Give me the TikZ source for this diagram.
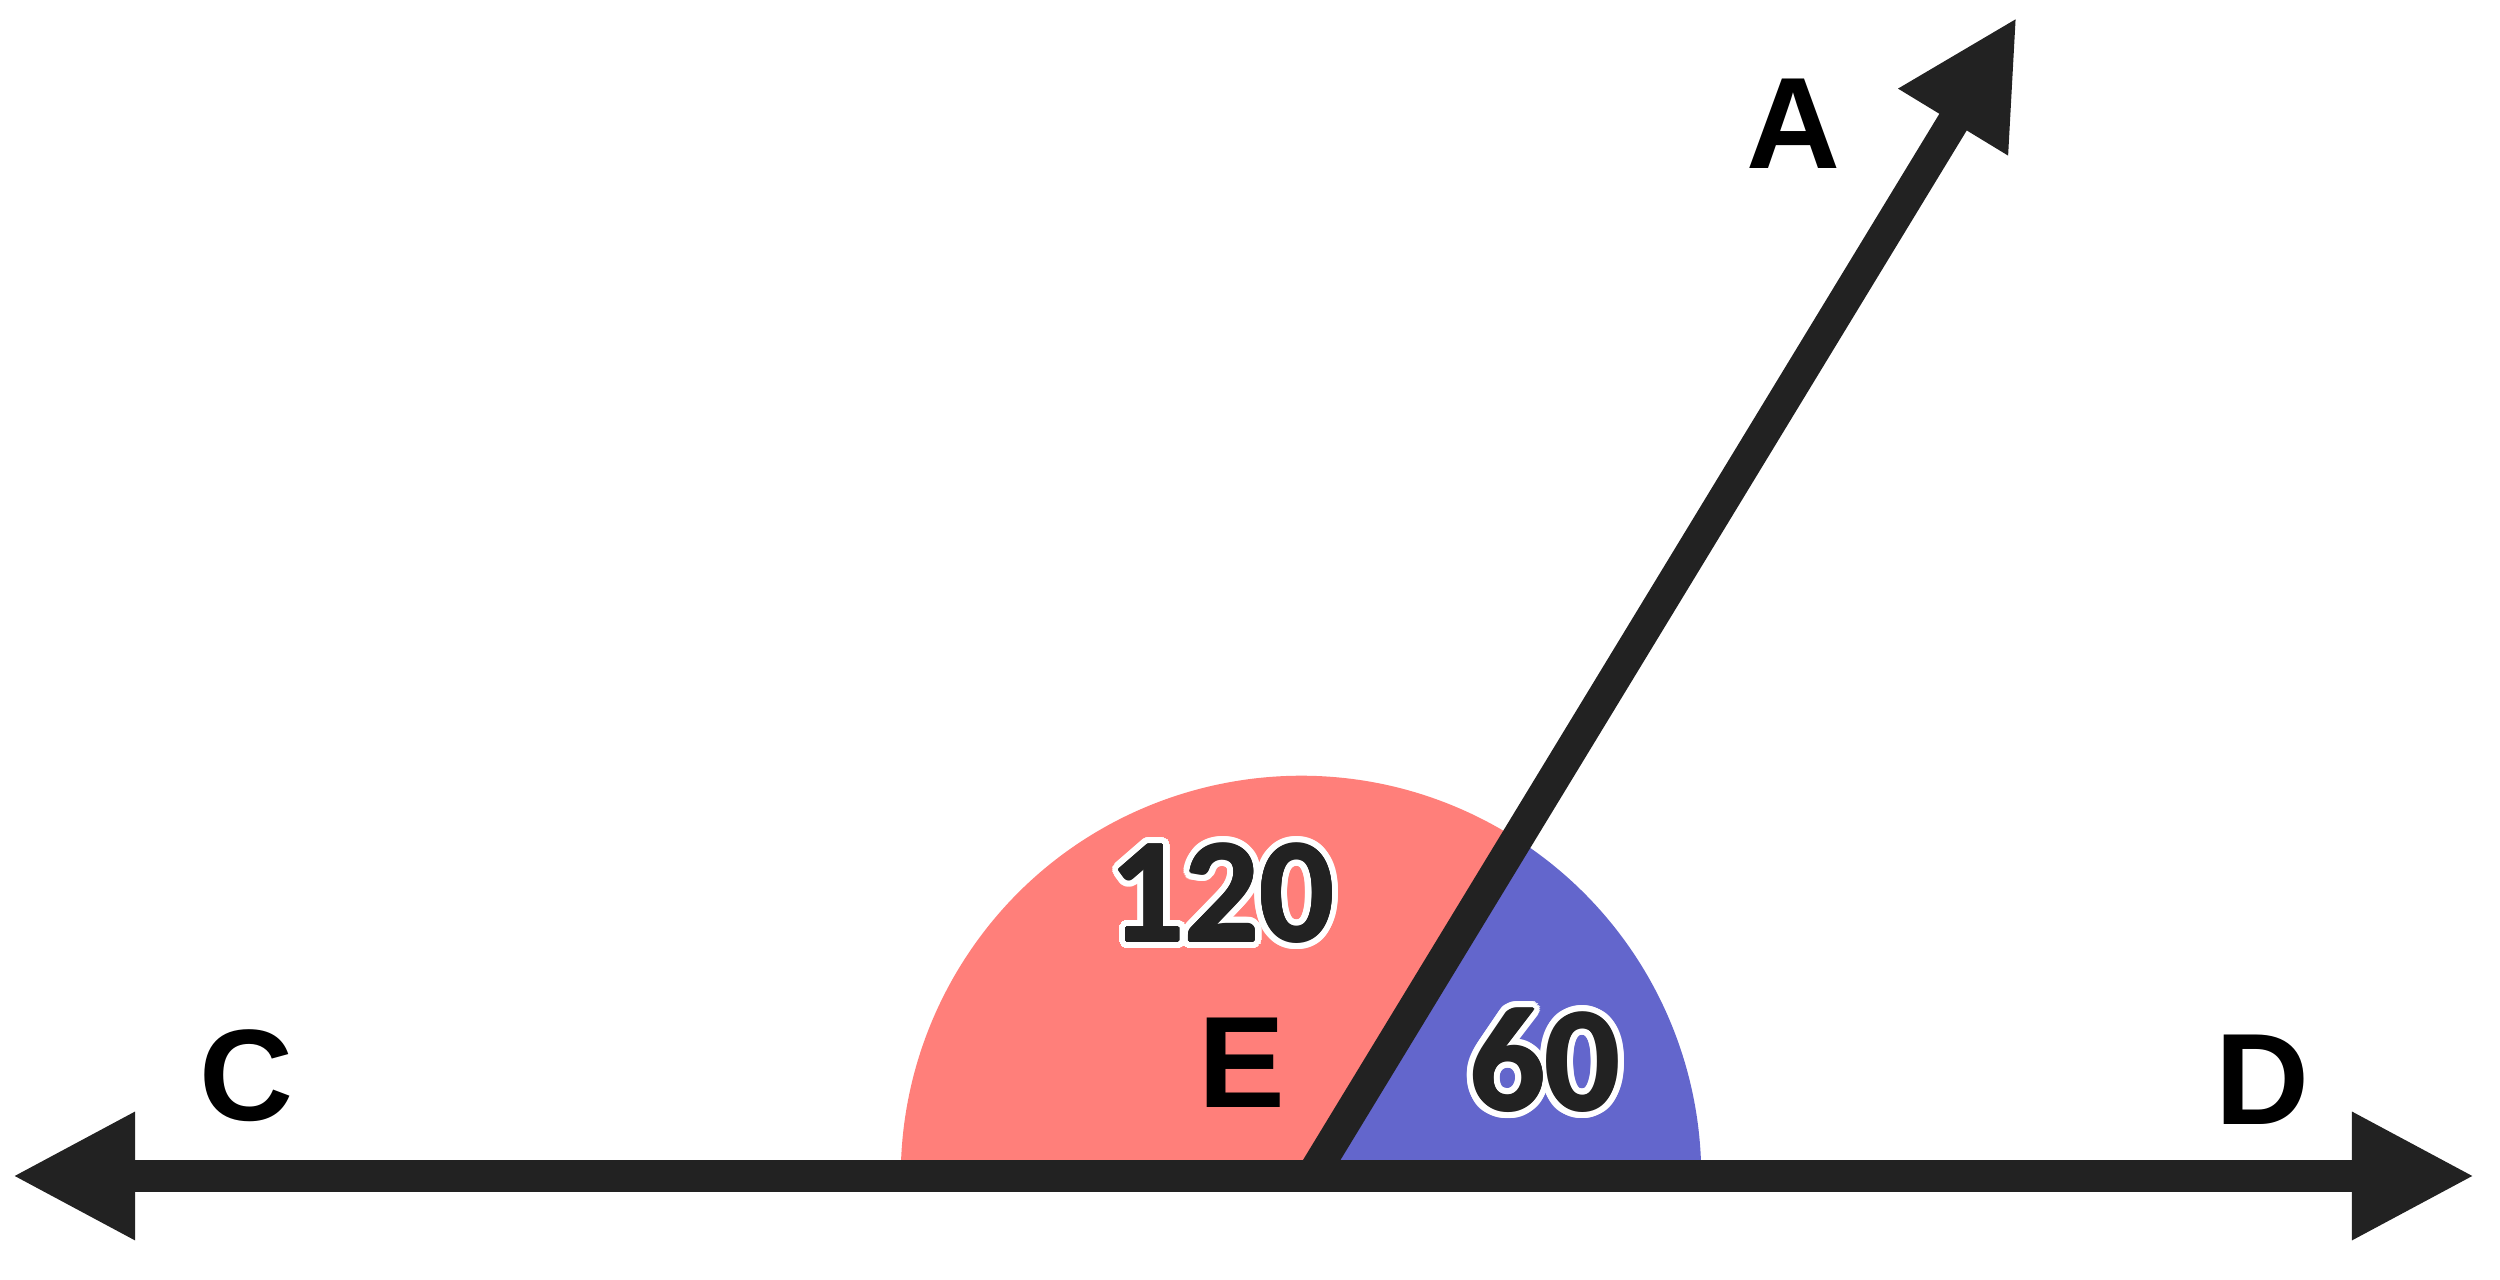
\documentclass[tikz,border=0pt]{standalone}
\usepackage{fontspec}
\setmainfont{Liberation Sans}
\newfontfamily\numfont{Carlito}
\usetikzlibrary{arrows.meta}
\definecolor{ink}{HTML}{222222}
\definecolor{redfill}{HTML}{FF7F7A}
\definecolor{bluefill}{HTML}{6366CC}
\tikzset{
  tipshape/.tip={Triangle[length=1.23cm,width=1.19cm]},
  ray/.style={draw=ink, line width=0.32cm},
  ptlabel/.style={font=\bfseries\fontsize{37}{40}\selectfont, text=black, inner sep=0pt, anchor=base},
  numlabel/.style={font=\numfont\bfseries\fontsize{42}{44}\selectfont, text=ink, inner sep=0pt, anchor=center},
  halolabel/.style={numlabel, text=white}
}
\begin{document}
\begin{tikzpicture}[x=0.01cm,y=0.01cm]
\useasboundingbox (0,0) rectangle (2500,1280);
% key points
\coordinate (O) at (1301,104);
\coordinate (E) at (1312,104);
\coordinate (Cend) at (12,104);
\coordinate (Dend) at (2475,104);
\coordinate (Aend) at (2017,1263);
% angle sectors
\fill[bluefill] (O) -- ++(4cm,0) arc[start angle=0,end angle=58.7,radius=4cm] -- cycle;
\fill[redfill] (O) -- ++(58.7:4cm) arc[start angle=58.7,end angle=180,radius=4cm] -- cycle;
% lines
\draw[ray, {tipshape}-{tipshape}] (Cend) -- (Dend);
\draw[ray, -{tipshape}] (E) -- (Aend);
% point labels
\node[ptlabel] (lA) at (1793,1111) {A};
\node[ptlabel] (lC) at (246,159) {C};
\node[ptlabel] (lD) at (2262,155) {D};
\node[ptlabel] (lE) at (1242,172) {E};
% angle values with white outline
\foreach \a [count=\i] in {0,15,...,345} {
  \node[halolabel, shift={(\a:0.075cm)}] (h120-\i) at (1222,387) {120};
  \node[halolabel, shift={(\a:0.075cm)}] (h60-\i) at (1545,220) {60};
}
\foreach \a [count=\i] in {0,45,...,315} {
  \node[numlabel, shift={(\a:0.012cm)}] (d120-\i) at (1222,387) {120};
  \node[numlabel, shift={(\a:0.012cm)}] (d60-\i) at (1545,220) {60};
}
\node[numlabel] (n120) at (1222,387) {120};
\node[numlabel] (n60) at (1545,220) {60};
\end{tikzpicture}
\end{document}
